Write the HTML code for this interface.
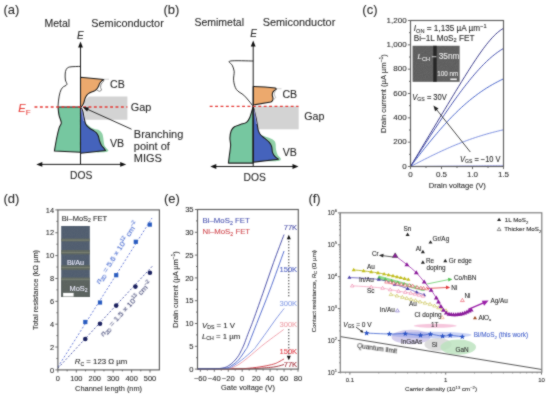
<!DOCTYPE html>
<html><head><meta charset="utf-8"><title>Bi contacts figure</title>
<style>
html,body{margin:0;padding:0;background:#fff;}
body{width:550px;height:395px;overflow:hidden;}
svg{display:block;font-family:'Liberation Sans', Arial, sans-serif;}

</style></head><body>
<div id="w"><svg width="550" height="395" viewBox="0 0 550 395">
<defs><filter id="soft" x="0" y="0" width="100%" height="100%" color-interpolation-filters="sRGB"><feConvolveMatrix order="3" kernelMatrix="1 2 1 2 14 2 1 2 1" divisor="26" edgeMode="duplicate"/></filter></defs>
<g filter="url(#soft)">
<rect width="550" height="395" fill="#fff"/>
<text x="3.4" y="13.8" font-size="13.0" fill="#2e2e2e" stroke="#2e2e2e" stroke-width="0.1">(a)</text>
<text x="163.5" y="13.8" font-size="13.0" fill="#2e2e2e" stroke="#2e2e2e" stroke-width="0.1">(b)</text>
<text x="362.3" y="13.8" font-size="13.0" fill="#2e2e2e" stroke="#2e2e2e" stroke-width="0.1">(c)</text>
<text x="3.4" y="203.0" font-size="13.0" fill="#2e2e2e" stroke="#2e2e2e" stroke-width="0.1">(d)</text>
<text x="164.0" y="203.0" font-size="13.0" fill="#2e2e2e" stroke="#2e2e2e" stroke-width="0.1">(e)</text>
<text x="308.4" y="203.0" font-size="13.0" fill="#2e2e2e" stroke="#2e2e2e" stroke-width="0.1">(f)</text>
<text x="44.4" y="26.5" font-size="10.5" fill="#2a2a2a" stroke="#2a2a2a" stroke-width="0.1">Metal</text>
<text x="91.3" y="26.5" font-size="10.5" fill="#2a2a2a" textLength="72.5" lengthAdjust="spacingAndGlyphs" stroke="#2a2a2a" stroke-width="0.1">Semiconductor</text>
<text x="77.0" y="38.7" font-size="10" fill="#2a2a2a" font-style="italic" stroke="#2a2a2a" stroke-width="0.1">E</text>
<path d="M88.8,96.6 L127.4,96.6 L127.4,119.8 L85.5,119.8 L84.2,112 L84.0,107 Q84.6,99 88.8,96.6 Z" fill="#d3d3d3"/>
<path d="M80.50,66.40 C78.68,66.50 71.98,66.48 69.60,67.00 C67.22,67.52 66.93,68.33 66.20,69.50 C65.47,70.67 65.33,72.25 65.20,74.00 C65.07,75.75 65.13,78.23 65.40,80.00 C65.67,81.77 67.28,83.35 66.80,84.60 C66.32,85.85 63.63,86.18 62.50,87.50 C61.37,88.82 60.65,90.42 60.00,92.50 C59.35,94.58 58.93,97.58 58.60,100.00 C58.27,102.42 58.10,105.83 58.00,107.00" fill="none" stroke="#1a1a1a" stroke-width="0.9" stroke-linejoin="round"/>
<path d="M58.00,107.00 C58.17,108.37 58.45,112.57 59.00,115.20 C59.55,117.83 61.27,120.73 61.30,122.80 C61.33,124.87 59.97,125.07 59.20,127.60 C58.43,130.13 57.50,134.10 56.70,138.00 C55.90,141.90 54.78,148.83 54.40,151.00 L80.5,152.3 L80.5,107 Z" fill="#76c7a0" stroke="#1a1a1a" stroke-width="1.05" stroke-linejoin="round"/>
<path d="M86.00,123.50 C87.05,124.28 90.25,127.15 92.30,128.20 C94.35,129.25 96.68,128.95 98.30,129.80 C99.92,130.65 101.17,131.93 102.00,133.30 C102.83,134.67 103.02,136.63 103.30,138.00 C103.58,139.37 103.48,140.20 103.70,141.50 C103.92,142.80 104.12,144.65 104.60,145.80 C105.08,146.95 105.97,147.60 106.60,148.40 C107.23,149.20 108.83,149.95 108.40,150.60 C107.97,151.25 107.90,152.02 104.00,152.30 C100.10,152.58 88.17,152.30 85.00,152.30 Z" fill="#8fd0a6" stroke="none" stroke-width="1" stroke-linejoin="round"/>
<path d="M80.50,107.00 C80.85,107.58 82.00,108.73 82.60,110.50 C83.20,112.27 83.57,115.32 84.10,117.60 C84.63,119.88 84.93,122.47 85.80,124.20 C86.67,125.93 88.10,126.98 89.30,128.00 C90.50,129.02 91.82,129.50 93.00,130.30 C94.18,131.10 95.52,131.85 96.40,132.80 C97.28,133.75 97.77,134.63 98.30,136.00 C98.83,137.37 99.08,139.45 99.60,141.00 C100.12,142.55 100.67,144.07 101.40,145.30 C102.13,146.53 103.30,147.52 104.00,148.40 C104.70,149.28 105.33,150.23 105.60,150.60 L80.5,153.3 Z" fill="#4563bc" stroke="#1a1a1a" stroke-width="1.05" stroke-linejoin="round"/>
<line x1="81.20" y1="108.50" x2="83.60" y2="121.00" stroke="#a9a4e8" stroke-width="0.8"/>
<path d="M80.5,77.3 L103.9,79.4  C103.50,79.70 102.22,80.52 101.50,81.20 C100.78,81.88 100.08,82.70 99.60,83.50 C99.12,84.30 98.97,85.20 98.60,86.00 C98.23,86.80 98.00,87.53 97.40,88.30 C96.80,89.07 95.95,90.00 95.00,90.60 C94.05,91.20 92.73,91.43 91.70,91.90 C90.67,92.37 89.63,92.83 88.80,93.40 C87.97,93.97 87.28,94.57 86.70,95.30 C86.12,96.03 85.67,96.93 85.30,97.80 C84.93,98.67 84.80,99.55 84.50,100.50 C84.20,101.45 83.90,102.58 83.50,103.50 C83.10,104.42 82.60,105.42 82.10,106.00 C81.60,106.58 80.77,106.83 80.50,107.00 Z" fill="#eca96d" stroke="#1a1a1a" stroke-width="1.05" stroke-linejoin="round"/>
<path d="M103.90,79.40 C103.82,79.75 103.85,80.73 103.40,81.50 C102.95,82.27 101.67,83.00 101.20,84.00 C100.73,85.00 100.55,86.50 100.60,87.50 C100.65,88.50 101.68,89.38 101.50,90.00 C101.32,90.62 100.33,91.23 99.50,91.20 C98.67,91.17 97.00,90.03 96.50,89.80" fill="none" stroke="#555" stroke-width="0.7" stroke-linejoin="round"/>
<line x1="103.90" y1="79.30" x2="109.00" y2="79.20" stroke="#bbb" stroke-width="0.7"/>
<line x1="80.50" y1="46.00" x2="80.50" y2="164.40" stroke="#1a1a1a" stroke-width="1"/>
<path d="M80.50,41.40 L82.90,47.40 L78.10,47.40 Z" fill="#111" stroke="none" stroke-width="1" stroke-linejoin="round"/>
<line x1="41.00" y1="164.40" x2="121.00" y2="164.40" stroke="#1a1a1a" stroke-width="1"/>
<path d="M36.30,164.40 L42.30,162.00 L42.30,166.80 Z" fill="#111" stroke="none" stroke-width="1" stroke-linejoin="round"/>
<path d="M126.20,164.40 L120.20,166.80 L120.20,162.00 Z" fill="#111" stroke="none" stroke-width="1" stroke-linejoin="round"/>
<text x="70.0" y="178.5" font-size="10.3" fill="#2a2a2a" stroke="#2a2a2a" stroke-width="0.1">DOS</text>
<line x1="34.50" y1="107.00" x2="127.40" y2="107.00" stroke="#e53935" stroke-width="1.35" stroke-dasharray="2.9 2.5"/>
<text x="18.3" y="111.7" font-size="11" fill="#e8413c" stroke="#e8413c" stroke-width="0.1"><tspan font-style="italic">E</tspan><tspan font-size="8" dy="2.9">F</tspan></text>
<line x1="131.50" y1="129.20" x2="87.50" y2="109.30" stroke="#1a1a1a" stroke-width="0.9"/>
<path d="M82.60,107.10 L88.97,107.57 L87.16,111.58 Z" fill="#111" stroke="none" stroke-width="1" stroke-linejoin="round"/>
<text x="110.0" y="88.2" font-size="10.6" fill="#2a2a2a" stroke="#2a2a2a" stroke-width="0.1">CB</text>
<text x="130.8" y="111.0" font-size="10.9" fill="#2a2a2a" stroke="#2a2a2a" stroke-width="0.1">Gap</text>
<text x="110.0" y="146.6" font-size="10.6" fill="#2a2a2a" stroke="#2a2a2a" stroke-width="0.1">VB</text>
<text x="133.8" y="137.6" font-size="11.0" fill="#2a2a2a" stroke="#2a2a2a" stroke-width="0.1">Branching</text>
<text x="133.8" y="150.0" font-size="11.0" fill="#2a2a2a" stroke="#2a2a2a" stroke-width="0.1">point of</text>
<text x="133.8" y="162.4" font-size="11.0" fill="#2a2a2a" stroke="#2a2a2a" stroke-width="0.1">MIGS</text>
<text x="194.4" y="26.3" font-size="10.5" fill="#2a2a2a" stroke="#2a2a2a" stroke-width="0.1">Semimetal</text>
<text x="262.7" y="26.3" font-size="10.5" fill="#2a2a2a" textLength="72.6" lengthAdjust="spacingAndGlyphs" stroke="#2a2a2a" stroke-width="0.1">Semiconductor</text>
<text x="250.2" y="37.3" font-size="10" fill="#2a2a2a" font-style="italic" stroke="#2a2a2a" stroke-width="0.1">E</text>
<rect x="253.2" y="106.3" width="45.5" height="23.0" fill="#d3d3d3"/>
<path d="M253.20,61.00 C249.38,61.00 233.80,60.30 230.30,61.00 C226.80,61.70 231.55,63.48 232.20,65.20 C232.85,66.92 233.97,68.77 234.20,71.30 C234.43,73.83 233.23,77.37 233.60,80.40 C233.97,83.43 234.70,87.03 236.40,89.50 C238.10,91.97 241.72,93.30 243.80,95.20 C245.88,97.10 247.33,99.05 248.90,100.90 C250.47,102.75 252.48,105.40 253.20,106.30" fill="none" stroke="#1a1a1a" stroke-width="0.9" stroke-linejoin="round"/>
<path d="M253.20,106.30 C252.63,108.17 250.92,114.83 249.80,117.50 C248.68,120.17 248.05,121.13 246.50,122.30 C244.95,123.47 242.52,123.75 240.50,124.50 C238.48,125.25 235.95,125.75 234.40,126.80 C232.85,127.85 231.95,128.93 231.20,130.80 C230.45,132.67 230.00,135.53 229.90,138.00 C229.80,140.47 230.70,142.60 230.60,145.60 C230.50,148.60 229.67,153.08 229.30,156.00 C228.93,158.92 228.55,161.92 228.40,163.10 L253.2,163.1 Z" fill="#76c7a0" stroke="#1a1a1a" stroke-width="1.05" stroke-linejoin="round"/>
<path d="M259.00,134.00 C260.12,134.47 263.55,135.95 265.70,136.80 C267.85,137.65 270.30,138.15 271.90,139.10 C273.50,140.05 274.62,140.78 275.30,142.50 C275.98,144.22 275.60,147.32 276.00,149.40 C276.40,151.48 276.92,153.47 277.70,155.00 C278.48,156.53 280.65,157.60 280.70,158.60 C280.75,159.60 281.62,160.60 278.00,161.00 C274.38,161.40 262.17,161.00 259.00,161.00 Z" fill="#8fd0a6" stroke="none" stroke-width="1" stroke-linejoin="round"/>
<path d="M253.20,106.30 C253.43,107.25 254.10,109.97 254.60,112.00 C255.10,114.03 255.75,116.33 256.20,118.50 C256.65,120.67 256.95,123.03 257.30,125.00 C257.65,126.97 257.77,128.67 258.30,130.30 C258.83,131.93 259.47,133.48 260.50,134.80 C261.53,136.12 263.07,136.97 264.50,138.20 C265.93,139.43 267.92,140.82 269.10,142.20 C270.28,143.58 271.03,144.82 271.60,146.50 C272.17,148.18 271.97,150.67 272.50,152.30 C273.03,153.93 273.82,155.15 274.80,156.30 C275.78,157.45 277.80,158.72 278.40,159.20 L253.2,162.2 Z" fill="#4563bc" stroke="#1a1a1a" stroke-width="1.05" stroke-linejoin="round"/>
<line x1="254.00" y1="110.00" x2="256.50" y2="124.00" stroke="#a9a4e8" stroke-width="0.8"/>
<path d="M253.2,86.5 Q265,86.8 275.4,88  C275.57,88.17 276.60,88.57 276.40,89.00 C276.20,89.43 274.82,90.02 274.20,90.60 C273.58,91.18 273.02,91.73 272.70,92.50 C272.38,93.27 272.25,94.25 272.30,95.20 C272.35,96.15 272.95,97.32 273.00,98.20 C273.05,99.08 272.97,99.87 272.60,100.50 C272.23,101.13 271.10,101.75 270.80,102.00 L253.2,105 Z" fill="#eca96d" stroke="#1a1a1a" stroke-width="1.05" stroke-linejoin="round"/>
<path d="M276.40,89.20 C276.13,89.67 275.13,91.03 274.80,92.00 C274.47,92.97 274.27,94.08 274.40,95.00 C274.53,95.92 275.63,96.80 275.60,97.50 C275.57,98.20 274.43,98.92 274.20,99.20" fill="none" stroke="#888" stroke-width="0.6" stroke-linejoin="round"/>
<line x1="276.40" y1="88.60" x2="281.50" y2="88.80" stroke="#bbb" stroke-width="0.7"/>
<line x1="253.20" y1="45.00" x2="253.20" y2="166.50" stroke="#1a1a1a" stroke-width="1"/>
<path d="M253.20,40.60 L255.60,46.60 L250.80,46.60 Z" fill="#111" stroke="none" stroke-width="1" stroke-linejoin="round"/>
<line x1="215.00" y1="166.50" x2="293.50" y2="166.50" stroke="#1a1a1a" stroke-width="1"/>
<path d="M210.30,166.50 L216.30,164.10 L216.30,168.90 Z" fill="#111" stroke="none" stroke-width="1" stroke-linejoin="round"/>
<path d="M298.50,166.50 L292.50,168.90 L292.50,164.10 Z" fill="#111" stroke="none" stroke-width="1" stroke-linejoin="round"/>
<text x="243.5" y="180.9" font-size="10.3" fill="#2a2a2a" stroke="#2a2a2a" stroke-width="0.1">DOS</text>
<line x1="209.70" y1="106.30" x2="298.50" y2="106.30" stroke="#e53935" stroke-width="1.35" stroke-dasharray="2.9 2.5"/>
<text x="282.4" y="97.9" font-size="10.6" fill="#2a2a2a" stroke="#2a2a2a" stroke-width="0.1">CB</text>
<text x="304.2" y="120.2" font-size="10.7" fill="#2a2a2a" stroke="#2a2a2a" stroke-width="0.1">Gap</text>
<text x="282.8" y="156.2" font-size="10.6" fill="#2a2a2a" stroke="#2a2a2a" stroke-width="0.1">VB</text>
<defs><filter id="noise" x="0" y="0" width="100%" height="100%"><feTurbulence type="fractalNoise" baseFrequency="0.9" numOctaves="2" seed="3"/><feColorMatrix type="matrix" values="0 0 0 0 0.3  0 0 0 0 0.3  0 0 0 0 0.3  0 0 0 0.5 0"/><feComposite in2="SourceGraphic" operator="in"/></filter></defs>
<rect x="412.6" y="45.8" width="47" height="36" fill="#585858"/>
<rect x="412.6" y="45.8" width="47" height="36" fill="#555" filter="url(#noise)" opacity="0.6"/>
<rect x="433.8" y="45.8" width="2.9" height="36" fill="#262626"/>
<rect x="433.0" y="45.8" width="0.8" height="36" fill="#2e2e2e"/>
<text x="417.6" y="59.0" font-size="8" fill="#eee" stroke="#eee" stroke-width="0.1"><tspan font-style="italic">L</tspan><tspan font-size="5.6" dy="1.9">CH</tspan></text>
<rect x="431.8" y="56.3" width="4.6" height="0.9" fill="#ddd"/>
<text x="438.7" y="59.2" font-size="8.3" fill="#eee" stroke="#eee" stroke-width="0.1">35nm</text>
<text x="437.2" y="76.4" font-size="6.3" fill="#eee" stroke="#eee" stroke-width="0.1">100 nm</text>
<rect x="450.3" y="78.5" width="6.5" height="1.6" fill="#f2f2f2"/>
<line x1="407.90" y1="166.50" x2="410.50" y2="166.50" stroke="#5e5e5e" stroke-width="0.9"/>
<line x1="409.00" y1="154.33" x2="410.50" y2="154.33" stroke="#5e5e5e" stroke-width="0.9"/>
<line x1="407.90" y1="142.17" x2="410.50" y2="142.17" stroke="#5e5e5e" stroke-width="0.9"/>
<line x1="409.00" y1="130.00" x2="410.50" y2="130.00" stroke="#5e5e5e" stroke-width="0.9"/>
<line x1="407.90" y1="117.83" x2="410.50" y2="117.83" stroke="#5e5e5e" stroke-width="0.9"/>
<line x1="409.00" y1="105.67" x2="410.50" y2="105.67" stroke="#5e5e5e" stroke-width="0.9"/>
<line x1="407.90" y1="93.50" x2="410.50" y2="93.50" stroke="#5e5e5e" stroke-width="0.9"/>
<line x1="409.00" y1="81.33" x2="410.50" y2="81.33" stroke="#5e5e5e" stroke-width="0.9"/>
<line x1="407.90" y1="69.17" x2="410.50" y2="69.17" stroke="#5e5e5e" stroke-width="0.9"/>
<line x1="409.00" y1="57.00" x2="410.50" y2="57.00" stroke="#5e5e5e" stroke-width="0.9"/>
<line x1="407.90" y1="44.83" x2="410.50" y2="44.83" stroke="#5e5e5e" stroke-width="0.9"/>
<line x1="409.00" y1="32.67" x2="410.50" y2="32.67" stroke="#5e5e5e" stroke-width="0.9"/>
<line x1="407.90" y1="20.50" x2="410.50" y2="20.50" stroke="#5e5e5e" stroke-width="0.9"/>
<line x1="410.50" y1="166.50" x2="410.50" y2="169.10" stroke="#5e5e5e" stroke-width="0.9"/>
<line x1="426.00" y1="166.50" x2="426.00" y2="168.00" stroke="#5e5e5e" stroke-width="0.9"/>
<line x1="441.50" y1="166.50" x2="441.50" y2="169.10" stroke="#5e5e5e" stroke-width="0.9"/>
<line x1="457.00" y1="166.50" x2="457.00" y2="168.00" stroke="#5e5e5e" stroke-width="0.9"/>
<line x1="472.50" y1="166.50" x2="472.50" y2="169.10" stroke="#5e5e5e" stroke-width="0.9"/>
<line x1="488.00" y1="166.50" x2="488.00" y2="168.00" stroke="#5e5e5e" stroke-width="0.9"/>
<line x1="503.50" y1="166.50" x2="503.50" y2="169.10" stroke="#5e5e5e" stroke-width="0.9"/>
<text x="406.6" y="168.8" font-size="8.0" fill="#2e2e2e" text-anchor="end" stroke="#2e2e2e" stroke-width="0.1">0</text>
<text x="406.6" y="144.46666666666667" font-size="8.0" fill="#2e2e2e" text-anchor="end" stroke="#2e2e2e" stroke-width="0.1">200</text>
<text x="406.6" y="120.13333333333334" font-size="8.0" fill="#2e2e2e" text-anchor="end" stroke="#2e2e2e" stroke-width="0.1">400</text>
<text x="406.6" y="95.8" font-size="8.0" fill="#2e2e2e" text-anchor="end" stroke="#2e2e2e" stroke-width="0.1">600</text>
<text x="406.6" y="71.46666666666667" font-size="8.0" fill="#2e2e2e" text-anchor="end" stroke="#2e2e2e" stroke-width="0.1">800</text>
<text x="406.6" y="47.133333333333326" font-size="8.0" fill="#2e2e2e" text-anchor="end" stroke="#2e2e2e" stroke-width="0.1">1,000</text>
<text x="406.6" y="22.8" font-size="8.0" fill="#2e2e2e" text-anchor="end" stroke="#2e2e2e" stroke-width="0.1">1,200</text>
<text x="410.5" y="177.2" font-size="8.0" fill="#2e2e2e" text-anchor="middle" stroke="#2e2e2e" stroke-width="0.1">0</text>
<text x="441.5" y="177.2" font-size="8.0" fill="#2e2e2e" text-anchor="middle" stroke="#2e2e2e" stroke-width="0.1">0.5</text>
<text x="472.5" y="177.2" font-size="8.0" fill="#2e2e2e" text-anchor="middle" stroke="#2e2e2e" stroke-width="0.1">1.0</text>
<text x="503.5" y="177.2" font-size="8.0" fill="#2e2e2e" text-anchor="middle" stroke="#2e2e2e" stroke-width="0.1">1.5</text>
<text x="457.3" y="187.6" font-size="7.6" fill="#2e2e2e" text-anchor="middle" stroke="#2e2e2e" stroke-width="0.1">Drain voltage (V)</text>
<text transform="translate(386.0,93.5) rotate(-90)" font-size="7.6" fill="#2e2e2e" text-anchor="middle" stroke="#2e2e2e" stroke-width="0.1">Drain current (µA µm<tspan font-size="5.2" dy="-2.8">−1</tspan><tspan dy="2.8">)</tspan></text>
<path d="M410.50,166.50 L412.05,166.48 L413.60,166.46 L415.15,166.45 L416.70,166.43 L418.25,166.41 L419.80,166.39 L421.35,166.37 L422.90,166.35 L424.45,166.34 L426.00,166.32 L427.55,166.30 L429.10,166.28 L430.65,166.26 L432.20,166.24 L433.75,166.23 L435.30,166.21 L436.85,166.19 L438.40,166.17 L439.95,166.15 L441.50,166.13 L443.05,166.12 L444.60,166.10 L446.15,166.08 L447.70,166.06 L449.25,166.04 L450.80,166.03 L452.35,166.01 L453.90,165.99 L455.45,165.97 L457.00,165.95 L458.55,165.93 L460.10,165.92 L461.65,165.90 L463.20,165.88 L464.75,165.86 L466.30,165.84 L467.85,165.82 L469.40,165.81 L470.95,165.79 L472.50,165.77 L474.05,165.75 L475.60,165.73 L477.15,165.72 L478.70,165.70 L480.25,165.68 L481.80,165.66 L483.35,165.64 L484.90,165.62 L486.45,165.61 L488.00,165.59 L489.55,165.57 L491.10,165.55 L492.65,165.53 L494.20,165.51 L495.75,165.50 L497.30,165.48 L498.85,165.46 L500.40,165.44 L501.95,165.42 L503.50,165.41" fill="none" stroke="#aeb2ec" stroke-width="1.0" stroke-linejoin="round"/>
<path d="M410.50,166.50 L412.05,165.70 L413.60,164.91 L415.15,164.11 L416.70,163.32 L418.25,162.52 L419.80,161.73 L421.35,160.95 L422.90,160.16 L424.45,159.38 L426.00,158.60 L427.55,157.83 L429.10,157.06 L430.65,156.29 L432.20,155.53 L433.75,154.78 L435.30,154.03 L436.85,153.29 L438.40,152.56 L439.95,151.83 L441.50,151.11 L443.05,150.39 L444.60,149.69 L446.15,148.99 L447.70,148.30 L449.25,147.62 L450.80,146.95 L452.35,146.28 L453.90,145.63 L455.45,144.98 L457.00,144.35 L458.55,143.72 L460.10,143.10 L461.65,142.49 L463.20,141.90 L464.75,141.31 L466.30,140.73 L467.85,140.16 L469.40,139.60 L470.95,139.05 L472.50,138.52 L474.05,137.99 L475.60,137.47 L477.15,136.96 L478.70,136.46 L480.25,135.97 L481.80,135.50 L483.35,135.03 L484.90,134.57 L486.45,134.12 L488.00,133.68 L489.55,133.25 L491.10,132.83 L492.65,132.42 L494.20,132.02 L495.75,131.63 L497.30,131.24 L498.85,130.87 L500.40,130.50 L501.95,130.15 L503.50,129.80" fill="none" stroke="#7c8fe0" stroke-width="1.0" stroke-linejoin="round"/>
<path d="M410.50,166.50 L412.05,164.49 L413.60,162.49 L415.15,160.48 L416.70,158.48 L418.25,156.49 L419.80,154.50 L421.35,152.52 L422.90,150.55 L424.45,148.59 L426.00,146.65 L427.55,144.71 L429.10,142.79 L430.65,140.89 L432.20,139.00 L433.75,137.12 L435.30,135.27 L436.85,133.44 L438.40,131.62 L439.95,129.83 L441.50,128.06 L443.05,126.31 L444.60,124.58 L446.15,122.88 L447.70,121.21 L449.25,119.55 L450.80,117.93 L452.35,116.33 L453.90,114.76 L455.45,113.21 L457.00,111.69 L458.55,110.20 L460.10,108.74 L461.65,107.30 L463.20,105.90 L464.75,104.52 L466.30,103.17 L467.85,101.85 L469.40,100.55 L470.95,99.29 L472.50,98.05 L474.05,96.84 L475.60,95.66 L477.15,94.51 L478.70,93.38 L480.25,92.28 L481.80,91.21 L483.35,90.17 L484.90,89.15 L486.45,88.15 L488.00,87.19 L489.55,86.25 L491.10,85.33 L492.65,84.44 L494.20,83.57 L495.75,82.72 L497.30,81.90 L498.85,81.11 L500.40,80.33 L501.95,79.58 L503.50,78.85" fill="none" stroke="#4a66cc" stroke-width="1.0" stroke-linejoin="round"/>
<path d="M410.50,166.50 L412.05,164.10 L413.60,161.69 L415.15,159.29 L416.70,156.89 L418.25,154.49 L419.80,152.09 L421.35,149.69 L422.90,147.30 L424.45,144.91 L426.00,142.52 L427.55,140.14 L429.10,137.76 L430.65,135.39 L432.20,133.02 L433.75,130.66 L435.30,128.31 L436.85,125.97 L438.40,123.63 L439.95,121.31 L441.50,119.00 L443.05,116.70 L444.60,114.42 L446.15,112.14 L447.70,109.89 L449.25,107.65 L450.80,105.42 L452.35,103.22 L453.90,101.03 L455.45,98.87 L457.00,96.72 L458.55,94.60 L460.10,92.50 L461.65,90.43 L463.20,88.38 L464.75,86.36 L466.30,84.37 L467.85,82.41 L469.40,80.47 L470.95,78.57 L472.50,76.71 L474.05,74.88 L475.60,73.08 L477.15,71.32 L478.70,69.60 L480.25,67.92 L481.80,66.28 L483.35,64.68 L484.90,63.13 L486.45,61.62 L488.00,60.16 L489.55,58.75 L491.10,57.39 L492.65,56.08 L494.20,54.82 L495.75,53.62 L497.30,52.47 L498.85,51.38 L500.40,50.35 L501.95,49.38 L503.50,48.47" fill="none" stroke="#4551b0" stroke-width="1.0" stroke-linejoin="round"/>
<path d="M410.50,166.50 L412.05,163.91 L413.60,161.33 L415.15,158.74 L416.70,156.16 L418.25,153.57 L419.80,150.99 L421.35,148.40 L422.90,145.82 L424.45,143.23 L426.00,140.65 L427.55,138.06 L429.10,135.48 L430.65,132.89 L432.20,130.31 L433.75,127.72 L435.30,125.14 L436.85,122.55 L438.40,119.97 L439.95,117.39 L441.50,114.81 L443.05,112.23 L444.60,109.65 L446.15,107.08 L447.70,104.50 L449.25,101.93 L450.80,99.37 L452.35,96.81 L453.90,94.25 L455.45,91.70 L457.00,89.15 L458.55,86.62 L460.10,84.09 L461.65,81.58 L463.20,79.07 L464.75,76.58 L466.30,74.11 L467.85,71.65 L469.40,69.21 L470.95,66.80 L472.50,64.41 L474.05,62.04 L475.60,59.71 L477.15,57.41 L478.70,55.15 L480.25,52.94 L481.80,50.76 L483.35,48.64 L484.90,46.57 L486.45,44.57 L488.00,42.63 L489.55,40.76 L491.10,38.97 L492.65,37.27 L494.20,35.66 L495.75,34.14 L497.30,32.74 L498.85,31.46 L500.40,30.30 L501.95,29.28 L503.50,28.40" fill="none" stroke="#3b3c8c" stroke-width="1.0" stroke-linejoin="round"/>
<rect x="410.5" y="20.5" width="93.0" height="146.0" fill="none" stroke="#5e5e5e" stroke-width="1.15"/>
<text x="413.8" y="31.2" font-size="8.2" fill="#2a2a2a" stroke="#2a2a2a" stroke-width="0.1"><tspan font-style="italic">I</tspan><tspan font-size="5.6" dy="1.8">ON</tspan><tspan dy="-1.8"> = 1,135 µA µm</tspan><tspan font-size="5.6" dy="-3">−1</tspan></text>
<text x="413.8" y="40.6" font-size="8.2" fill="#2a2a2a" stroke="#2a2a2a" stroke-width="0.1">Bi–1L MoS<tspan font-size="5.6" dy="1.8">2</tspan><tspan dy="-1.8"> FET</tspan></text>
<text x="412.3" y="99.6" font-size="8.2" fill="#2a2a2a" textLength="34.5" lengthAdjust="spacingAndGlyphs" stroke="#2a2a2a" stroke-width="0.1"><tspan font-style="italic">V</tspan><tspan font-size="5.6" dy="1.8">GS</tspan><tspan dy="-1.8"> = 30V</tspan></text>
<text x="460.0" y="161.6" font-size="8.2" fill="#2a2a2a" textLength="40.5" lengthAdjust="spacingAndGlyphs" stroke="#2a2a2a" stroke-width="0.1"><tspan font-style="italic">V</tspan><tspan font-size="5.6" dy="1.8">GS</tspan><tspan dy="-1.8"> = −10 V</tspan></text>
<line x1="470.30" y1="152.00" x2="436.50" y2="109.50" stroke="#333" stroke-width="0.9"/>
<path d="M433.40,105.60 L438.55,108.54 L435.10,111.27 Z" fill="#222" stroke="none" stroke-width="1" stroke-linejoin="round"/>
<rect x="61.2" y="226" width="28.6" height="71" fill="#4c5a6d"/>
<rect x="61.2" y="238.6" width="28.6" height="2.8000000000000114" fill="#5f6860"/>
<rect x="61.2" y="250.0" width="28.6" height="4.400000000000006" fill="#5c655d"/>
<rect x="61.2" y="265.3" width="28.6" height="4.5" fill="#5c655d"/>
<rect x="61.2" y="277.5" width="28.6" height="3.3999999999999773" fill="#5f6860"/>
<rect x="61.2" y="280.9" width="28.6" height="16.100000000000023" fill="#575f5b"/>
<rect x="61.2" y="239.79999999999998" width="28.6" height="0.6" fill="#868c78"/>
<rect x="61.2" y="252.0" width="28.6" height="0.6" fill="#868c78"/>
<rect x="61.2" y="267.2" width="28.6" height="0.6" fill="#868c78"/>
<rect x="61.2" y="278.9" width="28.6" height="0.6" fill="#868c78"/>
<rect x="61.2" y="226" width="28.6" height="71" fill="#777" filter="url(#noise)" opacity="0.35"/>
<text x="75.5" y="264.6" font-size="7.2" fill="#eef" text-anchor="middle" stroke="#eef" stroke-width="0.1">Bi/Au</text>
<text x="69.6" y="290.8" font-size="7.4" fill="#eef" stroke="#eef" stroke-width="0.1">MoS<tspan font-size="5" dy="1.6">2</tspan></text>
<rect x="63.1" y="292.9" width="10.5" height="3.6" fill="#fff"/>
<line x1="55.30" y1="369.90" x2="57.90" y2="369.90" stroke="#5e5e5e" stroke-width="0.9"/>
<line x1="56.40" y1="358.47" x2="57.90" y2="358.47" stroke="#5e5e5e" stroke-width="0.9"/>
<line x1="55.30" y1="347.04" x2="57.90" y2="347.04" stroke="#5e5e5e" stroke-width="0.9"/>
<line x1="56.40" y1="335.61" x2="57.90" y2="335.61" stroke="#5e5e5e" stroke-width="0.9"/>
<line x1="55.30" y1="324.19" x2="57.90" y2="324.19" stroke="#5e5e5e" stroke-width="0.9"/>
<line x1="56.40" y1="312.76" x2="57.90" y2="312.76" stroke="#5e5e5e" stroke-width="0.9"/>
<line x1="55.30" y1="301.33" x2="57.90" y2="301.33" stroke="#5e5e5e" stroke-width="0.9"/>
<line x1="56.40" y1="289.90" x2="57.90" y2="289.90" stroke="#5e5e5e" stroke-width="0.9"/>
<line x1="55.30" y1="278.47" x2="57.90" y2="278.47" stroke="#5e5e5e" stroke-width="0.9"/>
<line x1="56.40" y1="267.04" x2="57.90" y2="267.04" stroke="#5e5e5e" stroke-width="0.9"/>
<line x1="55.30" y1="255.61" x2="57.90" y2="255.61" stroke="#5e5e5e" stroke-width="0.9"/>
<line x1="56.40" y1="244.19" x2="57.90" y2="244.19" stroke="#5e5e5e" stroke-width="0.9"/>
<line x1="55.30" y1="232.76" x2="57.90" y2="232.76" stroke="#5e5e5e" stroke-width="0.9"/>
<line x1="56.40" y1="221.33" x2="57.90" y2="221.33" stroke="#5e5e5e" stroke-width="0.9"/>
<line x1="55.30" y1="209.90" x2="57.90" y2="209.90" stroke="#5e5e5e" stroke-width="0.9"/>
<line x1="57.90" y1="369.90" x2="57.90" y2="372.50" stroke="#5e5e5e" stroke-width="0.9"/>
<line x1="67.11" y1="369.90" x2="67.11" y2="371.40" stroke="#5e5e5e" stroke-width="0.9"/>
<line x1="76.32" y1="369.90" x2="76.32" y2="372.50" stroke="#5e5e5e" stroke-width="0.9"/>
<line x1="85.53" y1="369.90" x2="85.53" y2="371.40" stroke="#5e5e5e" stroke-width="0.9"/>
<line x1="94.74" y1="369.90" x2="94.74" y2="372.50" stroke="#5e5e5e" stroke-width="0.9"/>
<line x1="103.95" y1="369.90" x2="103.95" y2="371.40" stroke="#5e5e5e" stroke-width="0.9"/>
<line x1="113.16" y1="369.90" x2="113.16" y2="372.50" stroke="#5e5e5e" stroke-width="0.9"/>
<line x1="122.37" y1="369.90" x2="122.37" y2="371.40" stroke="#5e5e5e" stroke-width="0.9"/>
<line x1="131.58" y1="369.90" x2="131.58" y2="372.50" stroke="#5e5e5e" stroke-width="0.9"/>
<line x1="140.79" y1="369.90" x2="140.79" y2="371.40" stroke="#5e5e5e" stroke-width="0.9"/>
<line x1="150.00" y1="369.90" x2="150.00" y2="372.50" stroke="#5e5e5e" stroke-width="0.9"/>
<text x="54.0" y="372.5" font-size="7.4" fill="#2e2e2e" text-anchor="end" stroke="#2e2e2e" stroke-width="0.1">0</text>
<text x="54.0" y="349.64285714285717" font-size="7.4" fill="#2e2e2e" text-anchor="end" stroke="#2e2e2e" stroke-width="0.1">2</text>
<text x="54.0" y="326.7857142857143" font-size="7.4" fill="#2e2e2e" text-anchor="end" stroke="#2e2e2e" stroke-width="0.1">4</text>
<text x="54.0" y="303.92857142857144" font-size="7.4" fill="#2e2e2e" text-anchor="end" stroke="#2e2e2e" stroke-width="0.1">6</text>
<text x="54.0" y="281.07142857142856" font-size="7.4" fill="#2e2e2e" text-anchor="end" stroke="#2e2e2e" stroke-width="0.1">8</text>
<text x="54.0" y="258.2142857142857" font-size="7.4" fill="#2e2e2e" text-anchor="end" stroke="#2e2e2e" stroke-width="0.1">10</text>
<text x="54.0" y="235.35714285714286" font-size="7.4" fill="#2e2e2e" text-anchor="end" stroke="#2e2e2e" stroke-width="0.1">12</text>
<text x="54.0" y="212.5" font-size="7.4" fill="#2e2e2e" text-anchor="end" stroke="#2e2e2e" stroke-width="0.1">14</text>
<text x="57.9" y="381.4" font-size="7.4" fill="#2e2e2e" text-anchor="middle" stroke="#2e2e2e" stroke-width="0.1">0</text>
<text x="76.32" y="381.4" font-size="7.4" fill="#2e2e2e" text-anchor="middle" stroke="#2e2e2e" stroke-width="0.1">100</text>
<text x="94.74000000000001" y="381.4" font-size="7.4" fill="#2e2e2e" text-anchor="middle" stroke="#2e2e2e" stroke-width="0.1">200</text>
<text x="113.16" y="381.4" font-size="7.4" fill="#2e2e2e" text-anchor="middle" stroke="#2e2e2e" stroke-width="0.1">300</text>
<text x="131.58" y="381.4" font-size="7.4" fill="#2e2e2e" text-anchor="middle" stroke="#2e2e2e" stroke-width="0.1">400</text>
<text x="150.0" y="381.4" font-size="7.4" fill="#2e2e2e" text-anchor="middle" stroke="#2e2e2e" stroke-width="0.1">500</text>
<text x="108.6" y="391.0" font-size="7.4" fill="#2e2e2e" text-anchor="middle" stroke="#2e2e2e" stroke-width="0.1">Channel length (nm)</text>
<text transform="translate(37.5,290) rotate(-90)" font-size="7.4" fill="#2e2e2e" text-anchor="middle" stroke="#2e2e2e" stroke-width="0.1">Total resistance (kΩ µm)</text>
<line x1="57.90" y1="367.04" x2="152.00" y2="218.00" stroke="#5a6fd6" stroke-width="0.9" stroke-dasharray="2 1.8"/>
<line x1="57.90" y1="368.19" x2="152.50" y2="266.00" stroke="#4a55a8" stroke-width="0.9" stroke-dasharray="2 1.8"/>
<rect x="83.2" y="319.9" width="4.2" height="4.2" fill="#2a5cc0"/>
<rect x="97.9" y="300.4" width="4.2" height="4.2" fill="#2a5cc0"/>
<rect x="114.10000000000001" y="273.09999999999997" width="4.2" height="4.2" fill="#2a5cc0"/>
<rect x="133.70000000000002" y="239.70000000000002" width="4.2" height="4.2" fill="#2a5cc0"/>
<rect x="147.70000000000002" y="222.5" width="4.2" height="4.2" fill="#2a5cc0"/>
<circle cx="85.3" cy="339" r="2.3" fill="#1c2260"/>
<circle cx="100" cy="323.8" r="2.3" fill="#1c2260"/>
<circle cx="116.2" cy="305.6" r="2.3" fill="#1c2260"/>
<circle cx="135.4" cy="286.6" r="2.3" fill="#1c2260"/>
<circle cx="149.9" cy="272.7" r="2.3" fill="#1c2260"/>
<text x="61.8" y="220.8" font-size="7.5" fill="#2a2a2a" stroke="#2a2a2a" stroke-width="0.1">Bi–MoS<tspan font-size="5" dy="1.6">2</tspan><tspan dy="-1.6"> FET</tspan></text>
<text transform="translate(99.6,284.2) rotate(-57.5)" font-size="7.8" fill="#3a5fcc" style="will-change:transform" stroke="#3a5fcc" stroke-width="0.1"><tspan font-style="italic">n</tspan><tspan font-size="5" dy="1.5">2D</tspan><tspan dy="-1.5"> = 5.6 × 10</tspan><tspan font-size="5" dy="-2.8">12</tspan><tspan dy="2.8"> cm</tspan><tspan font-size="5" dy="-2.8">−2</tspan></text>
<text transform="translate(103.4,336.8) rotate(-47.5)" font-size="7.8" fill="#3a3f70" style="will-change:transform" stroke="#3a3f70" stroke-width="0.1"><tspan font-style="italic">n</tspan><tspan font-size="5" dy="1.5">2D</tspan><tspan dy="-1.5"> = 1.5 × 10</tspan><tspan font-size="5" dy="-2.8">13</tspan><tspan dy="2.8"> cm</tspan><tspan font-size="5" dy="-2.8">−2</tspan></text>
<text x="74.8" y="364.2" font-size="7.8" fill="#2a2a2a" stroke="#2a2a2a" stroke-width="0.1"><tspan font-style="italic">R</tspan><tspan font-size="5.2" dy="1.6">C</tspan><tspan dy="-1.6"> = 123 Ω µm</tspan></text>
<rect x="57.9" y="209.9" width="101.5" height="159.99999999999997" fill="none" stroke="#5e5e5e" stroke-width="1.15"/>
<line x1="194.90" y1="369.10" x2="197.50" y2="369.10" stroke="#5e5e5e" stroke-width="0.9"/>
<line x1="196.00" y1="357.70" x2="197.50" y2="357.70" stroke="#5e5e5e" stroke-width="0.9"/>
<line x1="194.90" y1="346.30" x2="197.50" y2="346.30" stroke="#5e5e5e" stroke-width="0.9"/>
<line x1="196.00" y1="334.90" x2="197.50" y2="334.90" stroke="#5e5e5e" stroke-width="0.9"/>
<line x1="194.90" y1="323.50" x2="197.50" y2="323.50" stroke="#5e5e5e" stroke-width="0.9"/>
<line x1="196.00" y1="312.10" x2="197.50" y2="312.10" stroke="#5e5e5e" stroke-width="0.9"/>
<line x1="194.90" y1="300.70" x2="197.50" y2="300.70" stroke="#5e5e5e" stroke-width="0.9"/>
<line x1="196.00" y1="289.30" x2="197.50" y2="289.30" stroke="#5e5e5e" stroke-width="0.9"/>
<line x1="194.90" y1="277.90" x2="197.50" y2="277.90" stroke="#5e5e5e" stroke-width="0.9"/>
<line x1="196.00" y1="266.50" x2="197.50" y2="266.50" stroke="#5e5e5e" stroke-width="0.9"/>
<line x1="194.90" y1="255.10" x2="197.50" y2="255.10" stroke="#5e5e5e" stroke-width="0.9"/>
<line x1="196.00" y1="243.70" x2="197.50" y2="243.70" stroke="#5e5e5e" stroke-width="0.9"/>
<line x1="194.90" y1="232.30" x2="197.50" y2="232.30" stroke="#5e5e5e" stroke-width="0.9"/>
<line x1="196.00" y1="220.90" x2="197.50" y2="220.90" stroke="#5e5e5e" stroke-width="0.9"/>
<line x1="194.90" y1="209.50" x2="197.50" y2="209.50" stroke="#5e5e5e" stroke-width="0.9"/>
<line x1="200.35" y1="369.10" x2="200.35" y2="371.70" stroke="#5e5e5e" stroke-width="0.9"/>
<line x1="207.32" y1="369.10" x2="207.32" y2="370.60" stroke="#5e5e5e" stroke-width="0.9"/>
<line x1="214.30" y1="369.10" x2="214.30" y2="371.70" stroke="#5e5e5e" stroke-width="0.9"/>
<line x1="221.27" y1="369.10" x2="221.27" y2="370.60" stroke="#5e5e5e" stroke-width="0.9"/>
<line x1="228.25" y1="369.10" x2="228.25" y2="371.70" stroke="#5e5e5e" stroke-width="0.9"/>
<line x1="235.22" y1="369.10" x2="235.22" y2="370.60" stroke="#5e5e5e" stroke-width="0.9"/>
<line x1="242.20" y1="369.10" x2="242.20" y2="371.70" stroke="#5e5e5e" stroke-width="0.9"/>
<line x1="249.17" y1="369.10" x2="249.17" y2="370.60" stroke="#5e5e5e" stroke-width="0.9"/>
<line x1="256.15" y1="369.10" x2="256.15" y2="371.70" stroke="#5e5e5e" stroke-width="0.9"/>
<line x1="263.12" y1="369.10" x2="263.12" y2="370.60" stroke="#5e5e5e" stroke-width="0.9"/>
<line x1="270.10" y1="369.10" x2="270.10" y2="371.70" stroke="#5e5e5e" stroke-width="0.9"/>
<line x1="277.07" y1="369.10" x2="277.07" y2="370.60" stroke="#5e5e5e" stroke-width="0.9"/>
<line x1="284.05" y1="369.10" x2="284.05" y2="371.70" stroke="#5e5e5e" stroke-width="0.9"/>
<line x1="291.02" y1="369.10" x2="291.02" y2="370.60" stroke="#5e5e5e" stroke-width="0.9"/>
<line x1="298.00" y1="369.10" x2="298.00" y2="371.70" stroke="#5e5e5e" stroke-width="0.9"/>
<text x="193.6" y="371.8" font-size="7.6" fill="#2e2e2e" text-anchor="end" stroke="#2e2e2e" stroke-width="0.1">0</text>
<text x="193.6" y="349.0" font-size="7.6" fill="#2e2e2e" text-anchor="end" stroke="#2e2e2e" stroke-width="0.1">5</text>
<text x="193.6" y="326.2" font-size="7.6" fill="#2e2e2e" text-anchor="end" stroke="#2e2e2e" stroke-width="0.1">10</text>
<text x="193.6" y="303.4" font-size="7.6" fill="#2e2e2e" text-anchor="end" stroke="#2e2e2e" stroke-width="0.1">15</text>
<text x="193.6" y="280.59999999999997" font-size="7.6" fill="#2e2e2e" text-anchor="end" stroke="#2e2e2e" stroke-width="0.1">20</text>
<text x="193.6" y="257.8" font-size="7.6" fill="#2e2e2e" text-anchor="end" stroke="#2e2e2e" stroke-width="0.1">25</text>
<text x="193.6" y="234.99999999999997" font-size="7.6" fill="#2e2e2e" text-anchor="end" stroke="#2e2e2e" stroke-width="0.1">30</text>
<text x="193.6" y="212.2" font-size="7.6" fill="#2e2e2e" text-anchor="end" stroke="#2e2e2e" stroke-width="0.1">35</text>
<text x="200.34999999999997" y="381.0" font-size="7.6" fill="#2e2e2e" text-anchor="middle" stroke="#2e2e2e" stroke-width="0.1">−60</text>
<text x="214.29999999999998" y="381.0" font-size="7.6" fill="#2e2e2e" text-anchor="middle" stroke="#2e2e2e" stroke-width="0.1">−40</text>
<text x="228.25" y="381.0" font-size="7.6" fill="#2e2e2e" text-anchor="middle" stroke="#2e2e2e" stroke-width="0.1">−20</text>
<text x="242.2" y="381.0" font-size="7.6" fill="#2e2e2e" text-anchor="middle" stroke="#2e2e2e" stroke-width="0.1">0</text>
<text x="256.15" y="381.0" font-size="7.6" fill="#2e2e2e" text-anchor="middle" stroke="#2e2e2e" stroke-width="0.1">20</text>
<text x="270.1" y="381.0" font-size="7.6" fill="#2e2e2e" text-anchor="middle" stroke="#2e2e2e" stroke-width="0.1">40</text>
<text x="284.05" y="381.0" font-size="7.6" fill="#2e2e2e" text-anchor="middle" stroke="#2e2e2e" stroke-width="0.1">60</text>
<text x="298.0" y="381.0" font-size="7.6" fill="#2e2e2e" text-anchor="middle" stroke="#2e2e2e" stroke-width="0.1">80</text>
<text x="248.0" y="390.2" font-size="7.4" fill="#2e2e2e" text-anchor="middle" stroke="#2e2e2e" stroke-width="0.1">Gate voltage (V)</text>
<text transform="translate(177.5,289.5) rotate(-90)" font-size="7.4" fill="#2e2e2e" text-anchor="middle" stroke="#2e2e2e" stroke-width="0.1">Drain current (µA µm<tspan font-size="5" dy="-2.6">−1</tspan><tspan dy="2.6">)</tspan></text>
<path d="M197.56,368.96 C205.00,368.95 232.44,368.96 242.20,368.87 C251.96,368.78 252.08,368.61 256.15,368.42 C260.22,368.23 263.71,367.97 266.61,367.73 C269.52,367.50 271.61,367.28 273.59,367.00 C275.56,366.73 276.73,366.50 278.47,366.09 C280.21,365.68 283.12,364.80 284.05,364.54" fill="none" stroke="#a0303a" stroke-width="0.95" stroke-linejoin="round"/>
<path d="M197.56,368.96 C203.84,368.95 226.62,369.00 235.22,368.87 C243.83,368.74 244.52,368.61 249.17,368.19 C253.82,367.77 259.06,367.05 263.12,366.36 C267.19,365.68 271.03,364.81 273.59,364.08 C276.14,363.36 276.73,362.90 278.47,362.03 C280.21,361.17 283.12,359.41 284.05,358.89" fill="none" stroke="#d0404a" stroke-width="0.95" stroke-linejoin="round"/>
<path d="M197.56,368.87 C202.09,368.83 218.48,369.06 224.76,368.64 C231.04,368.23 231.85,367.81 235.22,366.36 C238.60,364.92 241.36,362.71 244.99,359.98 C248.62,357.25 253.99,352.49 256.99,349.99 C259.99,347.49 260.22,347.15 262.99,344.98 C265.75,342.80 270.13,339.53 273.59,336.95 C277.04,334.38 282.02,330.76 283.70,329.52" fill="none" stroke="#f0a0ac" stroke-width="0.95" stroke-linejoin="round"/>
<path d="M197.56,368.87 C202.09,368.83 219.07,368.99 224.76,368.64 C230.46,368.30 228.91,368.26 231.74,366.82 C234.56,365.38 238.13,362.78 241.71,359.98 C245.29,357.18 250.63,352.49 253.22,349.99 C255.81,347.49 255.03,347.95 257.27,344.98 C259.50,342.01 263.62,336.33 266.61,332.16 C269.60,328.00 272.27,323.94 275.19,319.99 C278.11,316.04 282.63,310.37 284.12,308.45" fill="none" stroke="#8094e0" stroke-width="0.95" stroke-linejoin="round"/>
<path d="M197.56,368.87 C202.09,368.76 219.07,368.76 224.76,368.19 C230.46,367.62 229.45,366.82 231.74,365.45 C234.03,364.08 236.21,362.56 238.50,359.98 C240.79,357.40 243.85,352.49 245.48,349.99 C247.11,347.49 246.16,349.98 248.27,344.98 C250.37,339.98 254.50,329.15 258.10,319.99 C261.71,310.82 265.57,301.48 269.89,289.98 C274.22,278.49 281.69,257.49 284.05,251.00" fill="none" stroke="#5068cc" stroke-width="0.95" stroke-linejoin="round"/>
<path d="M197.56,368.87 C200.93,368.83 213.25,368.87 217.79,368.64 C222.32,368.42 223.02,367.96 224.76,367.50 C226.51,367.05 227.09,366.59 228.25,365.91 C229.41,365.22 230.57,364.39 231.74,363.40 C232.90,362.41 234.06,361.31 235.22,359.98 C236.39,358.65 237.74,356.94 238.71,355.42 C239.69,353.90 240.22,352.61 241.08,350.86 C241.94,349.11 242.76,347.67 243.87,344.93 C244.99,342.20 246.19,338.62 247.78,334.44 C249.37,330.26 250.72,327.26 253.43,319.85 C256.14,312.44 260.67,299.56 264.03,289.98 C267.39,280.41 270.25,271.63 273.59,262.40 C276.92,253.16 282.31,239.22 284.05,234.58" fill="none" stroke="#474ca6" stroke-width="0.95" stroke-linejoin="round"/>
<line x1="288.80" y1="238.00" x2="288.80" y2="297.50" stroke="#222" stroke-width="0.9" stroke-dasharray="1.4 1.6"/>
<line x1="288.80" y1="329.00" x2="288.80" y2="355.50" stroke="#222" stroke-width="0.9" stroke-dasharray="1.4 1.6"/>
<path d="M288.80,234.80 L290.80,239.30 L286.80,239.30 Z" fill="#111" stroke="none" stroke-width="1" stroke-linejoin="round"/>
<path d="M288.80,360.20 L286.80,355.70 L290.80,355.70 Z" fill="#111" stroke="none" stroke-width="1" stroke-linejoin="round"/>
<text x="297.2" y="230.2" font-size="7.6" fill="#4a4fa8" text-anchor="end" stroke="#4a4fa8" stroke-width="0.1">77K</text>
<text x="297.2" y="271.7" font-size="7.6" fill="#5060c0" text-anchor="end" stroke="#5060c0" stroke-width="0.1">150K</text>
<text x="297.2" y="306.3" font-size="7.6" fill="#8aa0e6" text-anchor="end" stroke="#8aa0e6" stroke-width="0.1">300K</text>
<text x="297.2" y="327.2" font-size="7.6" fill="#eea2aa" text-anchor="end" stroke="#eea2aa" stroke-width="0.1">300K</text>
<text x="297.2" y="353.9" font-size="7.6" fill="#e0404a" text-anchor="end" stroke="#e0404a" stroke-width="0.1">150K</text>
<text x="297.2" y="367.3" font-size="7.6" fill="#a0303a" text-anchor="end" stroke="#a0303a" stroke-width="0.1">77K</text>
<text x="202.6" y="223.4" font-size="7.8" fill="#4a54b0" stroke="#4a54b0" stroke-width="0.1">Bi–MoS<tspan font-size="5.2" dy="1.6">2</tspan><tspan dy="-1.6"> FET</tspan></text>
<text x="202.6" y="234.2" font-size="7.8" fill="#d04a50" stroke="#d04a50" stroke-width="0.1">Ni–MoS<tspan font-size="5.2" dy="1.6">2</tspan><tspan dy="-1.6"> FET</tspan></text>
<text x="202.0" y="327.6" font-size="7.8" fill="#2a2a2a" stroke="#2a2a2a" stroke-width="0.1"><tspan font-style="italic">V</tspan><tspan font-size="5.2" dy="1.6">DS</tspan><tspan dy="-1.6"> = 1 V</tspan></text>
<text x="202.0" y="338.8" font-size="7.8" fill="#2a2a2a" stroke="#2a2a2a" stroke-width="0.1"><tspan font-style="italic">L</tspan><tspan font-size="5.2" dy="1.6">CH</tspan><tspan dy="-1.6"> = 1 µm</tspan></text>
<rect x="197.5" y="209.5" width="100.80000000000001" height="159.60000000000002" fill="none" stroke="#5e5e5e" stroke-width="1.15"/>
<line x1="337.90" y1="372.40" x2="340.30" y2="372.40" stroke="#5e5e5e" stroke-width="0.9"/>
<text x="336.9" y="374.70" font-size="6.5" fill="#2e2e2e" text-anchor="end" stroke="#2e2e2e" stroke-width="0.1">10<tspan font-size="4.0" dy="-2.8">1</tspan></text>
<line x1="339.00" y1="362.80" x2="340.30" y2="362.80" stroke="#5e5e5e" stroke-width="0.6"/>
<line x1="339.00" y1="357.18" x2="340.30" y2="357.18" stroke="#5e5e5e" stroke-width="0.6"/>
<line x1="339.00" y1="353.19" x2="340.30" y2="353.19" stroke="#5e5e5e" stroke-width="0.6"/>
<line x1="339.00" y1="350.10" x2="340.30" y2="350.10" stroke="#5e5e5e" stroke-width="0.6"/>
<line x1="339.00" y1="347.58" x2="340.30" y2="347.58" stroke="#5e5e5e" stroke-width="0.6"/>
<line x1="339.00" y1="345.44" x2="340.30" y2="345.44" stroke="#5e5e5e" stroke-width="0.6"/>
<line x1="339.00" y1="343.59" x2="340.30" y2="343.59" stroke="#5e5e5e" stroke-width="0.6"/>
<line x1="339.00" y1="341.96" x2="340.30" y2="341.96" stroke="#5e5e5e" stroke-width="0.6"/>
<line x1="337.90" y1="340.50" x2="340.30" y2="340.50" stroke="#5e5e5e" stroke-width="0.9"/>
<text x="336.9" y="342.80" font-size="6.5" fill="#2e2e2e" text-anchor="end" stroke="#2e2e2e" stroke-width="0.1">10<tspan font-size="4.0" dy="-2.8">2</tspan></text>
<line x1="339.00" y1="330.90" x2="340.30" y2="330.90" stroke="#5e5e5e" stroke-width="0.6"/>
<line x1="339.00" y1="325.28" x2="340.30" y2="325.28" stroke="#5e5e5e" stroke-width="0.6"/>
<line x1="339.00" y1="321.29" x2="340.30" y2="321.29" stroke="#5e5e5e" stroke-width="0.6"/>
<line x1="339.00" y1="318.20" x2="340.30" y2="318.20" stroke="#5e5e5e" stroke-width="0.6"/>
<line x1="339.00" y1="315.68" x2="340.30" y2="315.68" stroke="#5e5e5e" stroke-width="0.6"/>
<line x1="339.00" y1="313.54" x2="340.30" y2="313.54" stroke="#5e5e5e" stroke-width="0.6"/>
<line x1="339.00" y1="311.69" x2="340.30" y2="311.69" stroke="#5e5e5e" stroke-width="0.6"/>
<line x1="339.00" y1="310.06" x2="340.30" y2="310.06" stroke="#5e5e5e" stroke-width="0.6"/>
<line x1="337.90" y1="308.60" x2="340.30" y2="308.60" stroke="#5e5e5e" stroke-width="0.9"/>
<text x="336.9" y="310.90" font-size="6.5" fill="#2e2e2e" text-anchor="end" stroke="#2e2e2e" stroke-width="0.1">10<tspan font-size="4.0" dy="-2.8">3</tspan></text>
<line x1="339.00" y1="299.00" x2="340.30" y2="299.00" stroke="#5e5e5e" stroke-width="0.6"/>
<line x1="339.00" y1="293.38" x2="340.30" y2="293.38" stroke="#5e5e5e" stroke-width="0.6"/>
<line x1="339.00" y1="289.39" x2="340.30" y2="289.39" stroke="#5e5e5e" stroke-width="0.6"/>
<line x1="339.00" y1="286.30" x2="340.30" y2="286.30" stroke="#5e5e5e" stroke-width="0.6"/>
<line x1="339.00" y1="283.78" x2="340.30" y2="283.78" stroke="#5e5e5e" stroke-width="0.6"/>
<line x1="339.00" y1="281.64" x2="340.30" y2="281.64" stroke="#5e5e5e" stroke-width="0.6"/>
<line x1="339.00" y1="279.79" x2="340.30" y2="279.79" stroke="#5e5e5e" stroke-width="0.6"/>
<line x1="339.00" y1="278.16" x2="340.30" y2="278.16" stroke="#5e5e5e" stroke-width="0.6"/>
<line x1="337.90" y1="276.70" x2="340.30" y2="276.70" stroke="#5e5e5e" stroke-width="0.9"/>
<text x="336.9" y="279.00" font-size="6.5" fill="#2e2e2e" text-anchor="end" stroke="#2e2e2e" stroke-width="0.1">10<tspan font-size="4.0" dy="-2.8">4</tspan></text>
<line x1="339.00" y1="267.10" x2="340.30" y2="267.10" stroke="#5e5e5e" stroke-width="0.6"/>
<line x1="339.00" y1="261.48" x2="340.30" y2="261.48" stroke="#5e5e5e" stroke-width="0.6"/>
<line x1="339.00" y1="257.49" x2="340.30" y2="257.49" stroke="#5e5e5e" stroke-width="0.6"/>
<line x1="339.00" y1="254.40" x2="340.30" y2="254.40" stroke="#5e5e5e" stroke-width="0.6"/>
<line x1="339.00" y1="251.88" x2="340.30" y2="251.88" stroke="#5e5e5e" stroke-width="0.6"/>
<line x1="339.00" y1="249.74" x2="340.30" y2="249.74" stroke="#5e5e5e" stroke-width="0.6"/>
<line x1="339.00" y1="247.89" x2="340.30" y2="247.89" stroke="#5e5e5e" stroke-width="0.6"/>
<line x1="339.00" y1="246.26" x2="340.30" y2="246.26" stroke="#5e5e5e" stroke-width="0.6"/>
<line x1="337.90" y1="244.80" x2="340.30" y2="244.80" stroke="#5e5e5e" stroke-width="0.9"/>
<text x="336.9" y="247.10" font-size="6.5" fill="#2e2e2e" text-anchor="end" stroke="#2e2e2e" stroke-width="0.1">10<tspan font-size="4.0" dy="-2.8">5</tspan></text>
<line x1="339.00" y1="235.20" x2="340.30" y2="235.20" stroke="#5e5e5e" stroke-width="0.6"/>
<line x1="339.00" y1="229.58" x2="340.30" y2="229.58" stroke="#5e5e5e" stroke-width="0.6"/>
<line x1="339.00" y1="225.59" x2="340.30" y2="225.59" stroke="#5e5e5e" stroke-width="0.6"/>
<line x1="339.00" y1="222.50" x2="340.30" y2="222.50" stroke="#5e5e5e" stroke-width="0.6"/>
<line x1="339.00" y1="219.98" x2="340.30" y2="219.98" stroke="#5e5e5e" stroke-width="0.6"/>
<line x1="339.00" y1="217.84" x2="340.30" y2="217.84" stroke="#5e5e5e" stroke-width="0.6"/>
<line x1="339.00" y1="215.99" x2="340.30" y2="215.99" stroke="#5e5e5e" stroke-width="0.6"/>
<line x1="339.00" y1="214.36" x2="340.30" y2="214.36" stroke="#5e5e5e" stroke-width="0.6"/>
<line x1="337.90" y1="212.90" x2="340.30" y2="212.90" stroke="#5e5e5e" stroke-width="0.9"/>
<text x="336.9" y="215.20" font-size="6.5" fill="#2e2e2e" text-anchor="end" stroke="#2e2e2e" stroke-width="0.1">10<tspan font-size="4.0" dy="-2.8">6</tspan></text>
<line x1="349.90" y1="372.20" x2="349.90" y2="374.60" stroke="#5e5e5e" stroke-width="0.9"/>
<line x1="378.74" y1="372.20" x2="378.74" y2="373.50" stroke="#5e5e5e" stroke-width="0.6"/>
<line x1="395.61" y1="372.20" x2="395.61" y2="373.50" stroke="#5e5e5e" stroke-width="0.6"/>
<line x1="407.58" y1="372.20" x2="407.58" y2="373.50" stroke="#5e5e5e" stroke-width="0.6"/>
<line x1="416.86" y1="372.20" x2="416.86" y2="373.50" stroke="#5e5e5e" stroke-width="0.6"/>
<line x1="424.45" y1="372.20" x2="424.45" y2="373.50" stroke="#5e5e5e" stroke-width="0.6"/>
<line x1="430.86" y1="372.20" x2="430.86" y2="373.50" stroke="#5e5e5e" stroke-width="0.6"/>
<line x1="436.42" y1="372.20" x2="436.42" y2="373.50" stroke="#5e5e5e" stroke-width="0.6"/>
<line x1="441.32" y1="372.20" x2="441.32" y2="373.50" stroke="#5e5e5e" stroke-width="0.6"/>
<line x1="445.70" y1="372.20" x2="445.70" y2="374.60" stroke="#5e5e5e" stroke-width="0.9"/>
<line x1="474.54" y1="372.20" x2="474.54" y2="373.50" stroke="#5e5e5e" stroke-width="0.6"/>
<line x1="491.41" y1="372.20" x2="491.41" y2="373.50" stroke="#5e5e5e" stroke-width="0.6"/>
<line x1="503.38" y1="372.20" x2="503.38" y2="373.50" stroke="#5e5e5e" stroke-width="0.6"/>
<line x1="512.66" y1="372.20" x2="512.66" y2="373.50" stroke="#5e5e5e" stroke-width="0.6"/>
<line x1="520.25" y1="372.20" x2="520.25" y2="373.50" stroke="#5e5e5e" stroke-width="0.6"/>
<line x1="526.66" y1="372.20" x2="526.66" y2="373.50" stroke="#5e5e5e" stroke-width="0.6"/>
<line x1="532.22" y1="372.20" x2="532.22" y2="373.50" stroke="#5e5e5e" stroke-width="0.6"/>
<line x1="537.12" y1="372.20" x2="537.12" y2="373.50" stroke="#5e5e5e" stroke-width="0.6"/>
<line x1="541.50" y1="372.20" x2="541.50" y2="374.60" stroke="#5e5e5e" stroke-width="0.9"/>
<line x1="340.62" y1="372.20" x2="340.62" y2="373.50" stroke="#5e5e5e" stroke-width="0.6"/>
<line x1="345.52" y1="372.20" x2="345.52" y2="373.50" stroke="#5e5e5e" stroke-width="0.6"/>
<text x="349.9" y="382.4" font-size="6.0" fill="#2e2e2e" text-anchor="middle" stroke="#2e2e2e" stroke-width="0.1">0.1</text>
<text x="445.7" y="382.4" font-size="6.0" fill="#2e2e2e" text-anchor="middle" stroke="#2e2e2e" stroke-width="0.1">1</text>
<text x="541.5" y="382.4" font-size="6.0" fill="#2e2e2e" text-anchor="middle" stroke="#2e2e2e" stroke-width="0.1">10</text>
<text x="441" y="391.2" font-size="6.15" fill="#2e2e2e" text-anchor="middle" stroke="#2e2e2e" stroke-width="0.1">Carrier density (10<tspan font-size="4.2" dy="-2.4">13</tspan><tspan dy="2.4"> cm</tspan><tspan font-size="4.2" dy="-2.4">−2</tspan><tspan dy="2.4">)</tspan></text>
<text transform="translate(315.8,291.2) rotate(-90)" font-size="6.1" fill="#2e2e2e" text-anchor="middle" stroke="#2e2e2e" stroke-width="0.1">Contact resistance, <tspan font-style="italic">R</tspan><tspan font-size="4.2" dy="1.3">C</tspan><tspan dy="-1.3"> (Ω µm)</tspan></text>
<ellipse cx="435.2" cy="325.8" rx="21.4" ry="2.0" fill="#f5c0d8" opacity="0.9"/>
<ellipse cx="411" cy="337" rx="19.5" ry="7.2" fill="#c9c0e6" opacity="0.8"/>
<ellipse cx="438" cy="344.4" rx="13.5" ry="6.5" fill="#d6d6d6" opacity="0.85"/>
<ellipse cx="458.2" cy="347.1" rx="17.8" ry="7.6" fill="#bde3c0" opacity="0.85"/>
<ellipse cx="431" cy="335" rx="40.5" ry="3.2" fill="#8a9ee8" opacity="0.45"/>
<line x1="340.30" y1="336.60" x2="541.80" y2="369.50" stroke="#444" stroke-width="0.9"/>
<text transform="translate(357.0,347.8) rotate(8.2)" font-size="6.5" fill="#2a2a2a" style="will-change:transform" stroke="#2a2a2a" stroke-width="0.1">Quantum limit</text>
<text x="401.0" y="343.6" font-size="6.4" fill="#333" stroke="#333" stroke-width="0.1">InGaAs</text>
<text x="431.8" y="347.3" font-size="6.4" fill="#333" stroke="#333" stroke-width="0.1">Si</text>
<text x="455.5" y="352.4" font-size="6.4" fill="#333" stroke="#333" stroke-width="0.1">GaN</text>
<text x="431.0" y="327.0" font-size="6.4" fill="#333" stroke="#333" stroke-width="0.1">1T</text>
<path d="M366.60,333.10 C370.40,333.25 382.95,333.90 389.40,334.00 C395.85,334.10 400.12,333.48 405.30,333.70 C410.48,333.92 416.32,335.22 420.50,335.30 C424.68,335.38 426.72,334.05 430.40,334.20 C434.08,334.35 439.30,336.02 442.60,336.20 C445.90,336.38 446.92,335.20 450.20,335.30 C453.48,335.40 460.28,336.55 462.30,336.80" fill="none" stroke="#3e62d0" stroke-width="0.8" stroke-linejoin="round"/>
<path d="M366.60,330.20 L367.37,332.04 L369.36,332.20 L367.84,333.50 L368.30,335.45 L366.60,334.41 L364.90,335.45 L365.36,333.50 L363.84,332.20 L365.83,332.04 Z" fill="#2a52c4" stroke="none" stroke-width="1" stroke-linejoin="round"/>
<path d="M389.40,331.10 L390.17,332.94 L392.16,333.10 L390.64,334.40 L391.10,336.35 L389.40,335.31 L387.70,336.35 L388.16,334.40 L386.64,333.10 L388.63,332.94 Z" fill="#2a52c4" stroke="none" stroke-width="1" stroke-linejoin="round"/>
<path d="M405.30,330.80 L406.07,332.64 L408.06,332.80 L406.54,334.10 L407.00,336.05 L405.30,335.00 L403.60,336.05 L404.06,334.10 L402.54,332.80 L404.53,332.64 Z" fill="#2a52c4" stroke="none" stroke-width="1" stroke-linejoin="round"/>
<path d="M420.50,332.40 L421.27,334.24 L423.26,334.40 L421.74,335.70 L422.20,337.65 L420.50,336.61 L418.80,337.65 L419.26,335.70 L417.74,334.40 L419.73,334.24 Z" fill="#2a52c4" stroke="none" stroke-width="1" stroke-linejoin="round"/>
<path d="M430.40,331.30 L431.17,333.14 L433.16,333.30 L431.64,334.60 L432.10,336.55 L430.40,335.50 L428.70,336.55 L429.16,334.60 L427.64,333.30 L429.63,333.14 Z" fill="#2a52c4" stroke="none" stroke-width="1" stroke-linejoin="round"/>
<path d="M442.60,333.30 L443.37,335.14 L445.36,335.30 L443.84,336.60 L444.30,338.55 L442.60,337.50 L440.90,338.55 L441.36,336.60 L439.84,335.30 L441.83,335.14 Z" fill="#2a52c4" stroke="none" stroke-width="1" stroke-linejoin="round"/>
<path d="M450.20,332.40 L450.97,334.24 L452.96,334.40 L451.44,335.70 L451.90,337.65 L450.20,336.61 L448.50,337.65 L448.96,335.70 L447.44,334.40 L449.43,334.24 Z" fill="#2a52c4" stroke="none" stroke-width="1" stroke-linejoin="round"/>
<path d="M462.30,333.90 L463.07,335.74 L465.06,335.90 L463.54,337.20 L464.00,339.15 L462.30,338.11 L460.60,339.15 L461.06,337.20 L459.54,335.90 L461.53,335.74 Z" fill="#2a52c4" stroke="none" stroke-width="1" stroke-linejoin="round"/>
<text x="473.8" y="337.4" font-size="6.4" fill="#4a66cc" stroke="#4a66cc" stroke-width="0.1">Bi/MoS<tspan font-size="4.4" dy="1.4">2</tspan><tspan dy="-1.4"> (this work)</tspan></text>
<text x="343.3" y="326.7" font-size="6.6" fill="#2a2a2a" stroke="#2a2a2a" stroke-width="0.1"><tspan font-style="italic">V</tspan><tspan font-size="4.6" dy="1.4">GS</tspan><tspan dy="-1.4"> = 0 V</tspan></text>
<line x1="356.00" y1="327.00" x2="361.50" y2="331.20" stroke="#111" stroke-width="0.8"/>
<path d="M363.60,332.80 L360.15,332.05 L361.97,329.67 Z" fill="#111" stroke="none" stroke-width="1" stroke-linejoin="round"/>
<path d="M353.70,269.90 C355.35,270.07 360.68,270.57 363.60,270.90 C366.52,271.23 368.80,271.57 371.20,271.90 C373.60,272.23 375.85,272.55 378.00,272.90 C380.15,273.25 382.33,273.65 384.10,274.00 C385.87,274.35 387.12,274.68 388.60,275.00 C390.08,275.32 391.60,275.60 393.00,275.90 C394.40,276.20 395.70,276.50 397.00,276.80 C398.30,277.10 399.53,277.40 400.80,277.70 C402.07,278.00 403.33,278.30 404.60,278.60 C405.87,278.90 407.77,279.35 408.40,279.50" fill="none" stroke="#b8b622" stroke-width="0.9" stroke-linejoin="round"/>
<path d="M353.70,267.87 L355.71,271.25 L351.69,271.25 Z" fill="#c2be1e" stroke="none" stroke-width="0.6" stroke-linejoin="round"/>
<path d="M363.60,268.87 L365.62,272.25 L361.59,272.25 Z" fill="#c2be1e" stroke="none" stroke-width="0.6" stroke-linejoin="round"/>
<path d="M371.20,269.87 L373.21,273.25 L369.19,273.25 Z" fill="#c2be1e" stroke="none" stroke-width="0.6" stroke-linejoin="round"/>
<path d="M378.00,270.87 L380.01,274.25 L375.99,274.25 Z" fill="#c2be1e" stroke="none" stroke-width="0.6" stroke-linejoin="round"/>
<path d="M384.10,271.97 L386.12,275.35 L382.09,275.35 Z" fill="#c2be1e" stroke="none" stroke-width="0.6" stroke-linejoin="round"/>
<path d="M388.60,272.97 L390.62,276.35 L386.59,276.35 Z" fill="#c2be1e" stroke="none" stroke-width="0.6" stroke-linejoin="round"/>
<path d="M393.00,273.87 L395.01,277.25 L390.99,277.25 Z" fill="#c2be1e" stroke="none" stroke-width="0.6" stroke-linejoin="round"/>
<path d="M397.00,274.77 L399.01,278.15 L394.99,278.15 Z" fill="#c2be1e" stroke="none" stroke-width="0.6" stroke-linejoin="round"/>
<path d="M400.80,275.67 L402.81,279.05 L398.79,279.05 Z" fill="#c2be1e" stroke="none" stroke-width="0.6" stroke-linejoin="round"/>
<path d="M404.60,276.57 L406.62,279.95 L402.59,279.95 Z" fill="#c2be1e" stroke="none" stroke-width="0.6" stroke-linejoin="round"/>
<path d="M408.40,277.47 L410.41,280.85 L406.38,280.85 Z" fill="#c2be1e" stroke="none" stroke-width="0.6" stroke-linejoin="round"/>
<path d="M378.8,275.6 L421,287.2 L424.5,288.4 L424.5,291 L421,290.6 L378.8,279.6 Z" fill="#8ad88a" opacity="0.95"/>
<path d="M379.00,275.57 L381.01,278.95 L376.99,278.95 Z" fill="#56c056" stroke="none" stroke-width="0.6" stroke-linejoin="round"/>
<path d="M385.29,277.20 L387.30,280.58 L383.27,280.58 Z" fill="#56c056" stroke="none" stroke-width="0.6" stroke-linejoin="round"/>
<path d="M391.57,278.83 L393.59,282.21 L389.56,282.21 Z" fill="#56c056" stroke="none" stroke-width="0.6" stroke-linejoin="round"/>
<path d="M397.86,280.46 L399.87,283.84 L395.84,283.84 Z" fill="#56c056" stroke="none" stroke-width="0.6" stroke-linejoin="round"/>
<path d="M404.14,282.09 L406.16,285.47 L402.13,285.47 Z" fill="#56c056" stroke="none" stroke-width="0.6" stroke-linejoin="round"/>
<path d="M410.43,283.71 L412.44,287.09 L408.41,287.09 Z" fill="#56c056" stroke="none" stroke-width="0.6" stroke-linejoin="round"/>
<path d="M416.71,285.34 L418.73,288.72 L414.70,288.72 Z" fill="#56c056" stroke="none" stroke-width="0.6" stroke-linejoin="round"/>
<path d="M423.00,286.97 L425.01,290.35 L420.99,290.35 Z" fill="#56c056" stroke="none" stroke-width="0.6" stroke-linejoin="round"/>
<path d="M349.40,277.50 C354.30,277.83 371.25,278.37 378.80,279.50 C386.35,280.63 389.90,282.78 394.70,284.30 C399.50,285.82 403.93,287.28 407.60,288.60 C411.27,289.92 413.97,291.17 416.70,292.20 C419.43,293.23 422.78,294.37 424.00,294.80" fill="none" stroke="#5a4fb8" stroke-width="0.8" stroke-linejoin="round"/>
<path d="M349.40,275.47 L351.41,278.85 L347.38,278.85 Z" fill="#4b3fa8" stroke="none" stroke-width="0.6" stroke-linejoin="round"/>
<path d="M378.80,277.47 L380.81,280.85 L376.79,280.85 Z" fill="#4b3fa8" stroke="none" stroke-width="0.6" stroke-linejoin="round"/>
<path d="M394.70,282.27 L396.71,285.65 L392.69,285.65 Z" fill="#4b3fa8" stroke="none" stroke-width="0.6" stroke-linejoin="round"/>
<path d="M407.60,286.57 L409.62,289.95 L405.59,289.95 Z" fill="#4b3fa8" stroke="none" stroke-width="0.6" stroke-linejoin="round"/>
<path d="M416.70,290.17 L418.71,293.55 L414.69,293.55 Z" fill="#4b3fa8" stroke="none" stroke-width="0.6" stroke-linejoin="round"/>
<path d="M424.00,292.77 L426.01,296.15 L421.99,296.15 Z" fill="#4b3fa8" stroke="none" stroke-width="0.6" stroke-linejoin="round"/>
<path d="M352.20,285.80 C355.37,286.00 366.13,286.62 371.20,287.00 C376.27,287.38 379.43,287.67 382.60,288.10 C385.77,288.53 387.55,289.08 390.20,289.60 C392.85,290.12 395.98,290.77 398.50,291.20 C401.02,291.63 403.27,291.88 405.30,292.20 C407.33,292.52 409.08,292.80 410.70,293.10 C412.32,293.40 413.62,293.68 415.00,294.00 C416.38,294.32 417.67,294.67 419.00,295.00 C420.33,295.33 422.33,295.83 423.00,296.00" fill="none" stroke="#f29ab8" stroke-width="0.7" stroke-linejoin="round"/>
<path d="M352.20,284.02 L353.97,286.99 L350.43,286.99 Z" fill="#fff" stroke="#ee7fa8" stroke-width="0.6" stroke-linejoin="round"/>
<path d="M371.20,285.22 L372.97,288.19 L369.43,288.19 Z" fill="#fff" stroke="#ee7fa8" stroke-width="0.6" stroke-linejoin="round"/>
<path d="M382.60,286.32 L384.37,289.29 L380.83,289.29 Z" fill="#fff" stroke="#ee7fa8" stroke-width="0.6" stroke-linejoin="round"/>
<path d="M390.20,287.82 L391.97,290.79 L388.43,290.79 Z" fill="#fff" stroke="#ee7fa8" stroke-width="0.6" stroke-linejoin="round"/>
<path d="M398.50,289.42 L400.27,292.39 L396.73,292.39 Z" fill="#fff" stroke="#ee7fa8" stroke-width="0.6" stroke-linejoin="round"/>
<path d="M405.30,290.42 L407.07,293.39 L403.53,293.39 Z" fill="#fff" stroke="#ee7fa8" stroke-width="0.6" stroke-linejoin="round"/>
<path d="M410.70,291.32 L412.47,294.29 L408.93,294.29 Z" fill="#fff" stroke="#ee7fa8" stroke-width="0.6" stroke-linejoin="round"/>
<path d="M415.00,292.22 L416.77,295.19 L413.23,295.19 Z" fill="#fff" stroke="#ee7fa8" stroke-width="0.6" stroke-linejoin="round"/>
<path d="M419.00,293.22 L420.77,296.19 L417.23,296.19 Z" fill="#fff" stroke="#ee7fa8" stroke-width="0.6" stroke-linejoin="round"/>
<path d="M423.00,294.22 L424.77,297.19 L421.23,297.19 Z" fill="#fff" stroke="#ee7fa8" stroke-width="0.6" stroke-linejoin="round"/>
<path d="M386.50,280.12 L388.27,283.09 L384.73,283.09 Z" fill="#fff" stroke="#e84a5a" stroke-width="0.6" stroke-linejoin="round"/>
<path d="M390.40,280.62 L392.17,283.59 L388.63,283.59 Z" fill="#fff" stroke="#e84a5a" stroke-width="0.6" stroke-linejoin="round"/>
<path d="M393.60,281.22 L395.37,284.19 L391.83,284.19 Z" fill="#fff" stroke="#e84a5a" stroke-width="0.6" stroke-linejoin="round"/>
<path d="M397.40,282.02 L399.17,284.99 L395.63,284.99 Z" fill="#fff" stroke="#e84a5a" stroke-width="0.6" stroke-linejoin="round"/>
<path d="M401.30,282.62 L403.07,285.59 L399.53,285.59 Z" fill="#fff" stroke="#e84a5a" stroke-width="0.6" stroke-linejoin="round"/>
<path d="M405.10,283.22 L406.87,286.19 L403.33,286.19 Z" fill="#fff" stroke="#e84a5a" stroke-width="0.6" stroke-linejoin="round"/>
<path d="M409.40,283.62 L411.17,286.59 L407.63,286.59 Z" fill="#fff" stroke="#e84a5a" stroke-width="0.6" stroke-linejoin="round"/>
<path d="M412.70,284.12 L414.47,287.09 L410.93,287.09 Z" fill="#fff" stroke="#e84a5a" stroke-width="0.6" stroke-linejoin="round"/>
<path d="M417.10,285.62 L418.87,288.59 L415.33,288.59 Z" fill="#fff" stroke="#e84a5a" stroke-width="0.6" stroke-linejoin="round"/>
<path d="M420.90,286.12 L422.67,289.09 L419.13,289.09 Z" fill="#fff" stroke="#e84a5a" stroke-width="0.6" stroke-linejoin="round"/>
<path d="M423.60,286.42 L425.37,289.39 L421.83,289.39 Z" fill="#fff" stroke="#e84a5a" stroke-width="0.6" stroke-linejoin="round"/>
<path d="M426.90,286.82 L428.67,289.79 L425.13,289.79 Z" fill="#fff" stroke="#e84a5a" stroke-width="0.6" stroke-linejoin="round"/>
<path d="M390.90,294.40 C391.90,294.63 394.98,295.33 396.90,295.80 C398.82,296.27 400.77,296.78 402.40,297.20 C404.03,297.62 405.25,297.93 406.70,298.30 C408.15,298.67 409.63,299.03 411.10,299.40 C412.57,299.77 414.02,300.10 415.50,300.50 C416.98,300.90 418.42,301.38 420.00,301.80 C421.58,302.22 423.33,302.60 425.00,303.00 C426.67,303.40 428.42,303.73 430.00,304.20 C431.58,304.67 433.08,305.23 434.50,305.80 C435.92,306.37 437.22,307.02 438.50,307.60 C439.78,308.18 440.95,308.80 442.20,309.30 C443.45,309.80 445.37,310.38 446.00,310.60" fill="none" stroke="#d6d470" stroke-width="0.7" stroke-linejoin="round"/>
<path d="M390.90,292.62 L392.67,295.59 L389.13,295.59 Z" fill="#fff" stroke="#c8c050" stroke-width="0.6" stroke-linejoin="round"/>
<path d="M396.90,294.02 L398.67,296.99 L395.13,296.99 Z" fill="#fff" stroke="#c8c050" stroke-width="0.6" stroke-linejoin="round"/>
<path d="M402.40,295.42 L404.17,298.39 L400.63,298.39 Z" fill="#fff" stroke="#c8c050" stroke-width="0.6" stroke-linejoin="round"/>
<path d="M406.70,296.52 L408.47,299.49 L404.93,299.49 Z" fill="#fff" stroke="#c8c050" stroke-width="0.6" stroke-linejoin="round"/>
<path d="M411.10,297.62 L412.87,300.59 L409.33,300.59 Z" fill="#fff" stroke="#c8c050" stroke-width="0.6" stroke-linejoin="round"/>
<path d="M415.50,298.72 L417.27,301.69 L413.73,301.69 Z" fill="#fff" stroke="#c8c050" stroke-width="0.6" stroke-linejoin="round"/>
<path d="M420.00,300.02 L421.77,302.99 L418.23,302.99 Z" fill="#fff" stroke="#c8c050" stroke-width="0.6" stroke-linejoin="round"/>
<path d="M425.00,301.22 L426.77,304.19 L423.23,304.19 Z" fill="#fff" stroke="#c8c050" stroke-width="0.6" stroke-linejoin="round"/>
<path d="M430.00,302.42 L431.77,305.39 L428.23,305.39 Z" fill="#fff" stroke="#c8c050" stroke-width="0.6" stroke-linejoin="round"/>
<path d="M434.50,304.02 L436.27,306.99 L432.73,306.99 Z" fill="#fff" stroke="#c8c050" stroke-width="0.6" stroke-linejoin="round"/>
<path d="M438.50,305.82 L440.27,308.79 L436.73,308.79 Z" fill="#fff" stroke="#c8c050" stroke-width="0.6" stroke-linejoin="round"/>
<path d="M442.20,307.52 L443.97,310.49 L440.43,310.49 Z" fill="#fff" stroke="#c8c050" stroke-width="0.6" stroke-linejoin="round"/>
<path d="M446.00,308.82 L447.77,311.79 L444.23,311.79 Z" fill="#fff" stroke="#c8c050" stroke-width="0.6" stroke-linejoin="round"/>
<line x1="426.00" y1="284.20" x2="448.50" y2="279.60" stroke="#5cc85c" stroke-width="0.75"/>
<path d="M452.40,279.30 L448.35,281.42 L448.07,277.83 Z" fill="#4cbf4c" stroke="none" stroke-width="1" stroke-linejoin="round"/>
<line x1="427.00" y1="288.50" x2="446.20" y2="287.50" stroke="#e03838" stroke-width="0.8"/>
<path d="M450.20,287.40 L446.00,289.20 L446.00,285.60 Z" fill="#e03838" stroke="none" stroke-width="1" stroke-linejoin="round"/>
<path d="M395.00,255.60 C396.98,257.10 403.35,261.77 406.90,264.60 C410.45,267.43 413.42,269.72 416.30,272.60 C419.18,275.48 421.73,278.98 424.20,281.90 C426.67,284.82 429.08,287.43 431.10,290.10 C433.12,292.77 435.07,295.92 436.30,297.90 C437.53,299.88 437.73,300.57 438.50,302.00 C439.27,303.43 440.07,305.13 440.90,306.50 C441.73,307.87 442.60,309.13 443.50,310.20 C444.40,311.27 445.38,312.23 446.30,312.90 C447.22,313.57 448.18,313.93 449.00,314.20 C449.82,314.47 450.45,314.43 451.20,314.50 C451.95,314.57 452.73,314.58 453.50,314.60 C454.27,314.62 455.05,314.63 455.80,314.60 C456.55,314.57 457.27,314.48 458.00,314.40 C458.73,314.32 459.45,314.23 460.20,314.10 C460.95,313.97 461.73,313.80 462.50,313.60 C463.27,313.40 464.05,313.17 464.80,312.90 C465.55,312.63 466.27,312.32 467.00,312.00 C467.73,311.68 468.50,311.33 469.20,311.00 C469.90,310.67 470.87,310.17 471.20,310.00" fill="none" stroke="#a038b0" stroke-width="0.85" stroke-linejoin="round"/>
<path d="M395.00,253.18 L397.40,257.21 L392.60,257.21 Z" fill="#8a1a9a" stroke="none" stroke-width="0.6" stroke-linejoin="round"/>
<path d="M406.90,262.18 L409.30,266.21 L404.50,266.21 Z" fill="#8a1a9a" stroke="none" stroke-width="0.6" stroke-linejoin="round"/>
<path d="M416.30,270.18 L418.70,274.21 L413.90,274.21 Z" fill="#8a1a9a" stroke="none" stroke-width="0.6" stroke-linejoin="round"/>
<path d="M424.20,279.48 L426.60,283.51 L421.80,283.51 Z" fill="#8a1a9a" stroke="none" stroke-width="0.6" stroke-linejoin="round"/>
<path d="M431.10,287.68 L433.50,291.71 L428.70,291.71 Z" fill="#8a1a9a" stroke="none" stroke-width="0.6" stroke-linejoin="round"/>
<path d="M436.30,295.48 L438.70,299.51 L433.90,299.51 Z" fill="#8a1a9a" stroke="none" stroke-width="0.6" stroke-linejoin="round"/>
<path d="M438.50,299.58 L440.90,303.61 L436.10,303.61 Z" fill="#8a1a9a" stroke="none" stroke-width="0.6" stroke-linejoin="round"/>
<path d="M440.90,304.08 L443.30,308.11 L438.50,308.11 Z" fill="#8a1a9a" stroke="none" stroke-width="0.6" stroke-linejoin="round"/>
<path d="M443.50,307.78 L445.90,311.81 L441.10,311.81 Z" fill="#8a1a9a" stroke="none" stroke-width="0.6" stroke-linejoin="round"/>
<path d="M446.30,310.48 L448.70,314.51 L443.90,314.51 Z" fill="#8a1a9a" stroke="none" stroke-width="0.6" stroke-linejoin="round"/>
<path d="M449.00,311.78 L451.40,315.81 L446.60,315.81 Z" fill="#8a1a9a" stroke="none" stroke-width="0.6" stroke-linejoin="round"/>
<path d="M451.20,312.08 L453.60,316.11 L448.80,316.11 Z" fill="#8a1a9a" stroke="none" stroke-width="0.6" stroke-linejoin="round"/>
<path d="M453.50,312.18 L455.90,316.21 L451.10,316.21 Z" fill="#8a1a9a" stroke="none" stroke-width="0.6" stroke-linejoin="round"/>
<path d="M455.80,312.18 L458.20,316.21 L453.40,316.21 Z" fill="#8a1a9a" stroke="none" stroke-width="0.6" stroke-linejoin="round"/>
<path d="M458.00,311.98 L460.40,316.01 L455.60,316.01 Z" fill="#8a1a9a" stroke="none" stroke-width="0.6" stroke-linejoin="round"/>
<path d="M460.20,311.68 L462.60,315.71 L457.80,315.71 Z" fill="#8a1a9a" stroke="none" stroke-width="0.6" stroke-linejoin="round"/>
<path d="M462.50,311.18 L464.90,315.21 L460.10,315.21 Z" fill="#8a1a9a" stroke="none" stroke-width="0.6" stroke-linejoin="round"/>
<path d="M464.80,310.48 L467.20,314.51 L462.40,314.51 Z" fill="#8a1a9a" stroke="none" stroke-width="0.6" stroke-linejoin="round"/>
<path d="M467.00,309.58 L469.40,313.61 L464.60,313.61 Z" fill="#8a1a9a" stroke="none" stroke-width="0.6" stroke-linejoin="round"/>
<path d="M469.20,308.58 L471.60,312.61 L466.80,312.61 Z" fill="#8a1a9a" stroke="none" stroke-width="0.6" stroke-linejoin="round"/>
<path d="M471.20,307.58 L473.60,311.61 L468.80,311.61 Z" fill="#8a1a9a" stroke="none" stroke-width="0.6" stroke-linejoin="round"/>
<path d="M395.20,252.87 L397.91,257.42 L392.49,257.42 Z" fill="#8a1a9a" stroke="#444" stroke-width="0.5" stroke-linejoin="round"/>
<line x1="393.00" y1="257.00" x2="383.00" y2="255.70" stroke="#333" stroke-width="0.8"/>
<path d="M378.80,255.20 L383.58,253.80 L383.17,257.58 Z" fill="#2a2a2a" stroke="none" stroke-width="1" stroke-linejoin="round"/>
<line x1="468.30" y1="309.40" x2="483.50" y2="302.80" stroke="#9a1fa8" stroke-width="1.3"/>
<path d="M488.60,300.60 L484.13,305.73 L481.80,300.64 Z" fill="#9a1fa8" stroke="none" stroke-width="1" stroke-linejoin="round"/>
<path d="M407.60,232.57 L409.62,235.95 L405.59,235.95 Z" fill="#222" stroke="none" stroke-width="0.6" stroke-linejoin="round"/>
<path d="M430.50,240.17 L432.51,243.55 L428.49,243.55 Z" fill="#222" stroke="none" stroke-width="0.6" stroke-linejoin="round"/>
<path d="M422.90,249.77 L424.91,253.15 L420.88,253.15 Z" fill="#222" stroke="none" stroke-width="0.6" stroke-linejoin="round"/>
<path d="M422.90,260.37 L424.91,263.75 L420.88,263.75 Z" fill="#222" stroke="none" stroke-width="0.6" stroke-linejoin="round"/>
<path d="M445.30,258.87 L447.31,262.25 L443.29,262.25 Z" fill="#222" stroke="none" stroke-width="0.6" stroke-linejoin="round"/>
<path d="M475.00,315.97 L477.01,319.35 L472.99,319.35 Z" fill="#9a4a22" stroke="none" stroke-width="0.6" stroke-linejoin="round"/>
<path d="M462.40,298.37 L464.31,301.58 L460.49,301.58 Z" fill="#fff" stroke="#e84a5a" stroke-width="0.6" stroke-linejoin="round"/>
<path d="M442.20,315.47 L444.11,318.68 L440.29,318.68 Z" fill="#fff" stroke="#f0a070" stroke-width="0.6" stroke-linejoin="round"/>
<path d="M397.40,308.67 L399.31,311.88 L395.49,311.88 Z" fill="#fff" stroke="#7060c0" stroke-width="0.6" stroke-linejoin="round"/>
<text x="403.5" y="231.0" font-size="6.4" fill="#2a2a2a" stroke="#2a2a2a" stroke-width="0.1">Sn</text>
<text x="371.9" y="255.6" font-size="6.4" fill="#2a2a2a" stroke="#2a2a2a" stroke-width="0.1">Cr</text>
<text x="366.9" y="269.0" font-size="6.4" fill="#2a2a2a" stroke="#2a2a2a" stroke-width="0.1">Au</text>
<text x="432.5" y="241.2" font-size="6.4" fill="#2a2a2a" stroke="#2a2a2a" stroke-width="0.1">Gr/Ag</text>
<text x="415.8" y="251.0" font-size="6.4" fill="#2a2a2a" stroke="#2a2a2a" stroke-width="0.1">Al</text>
<text x="426.0" y="263.2" font-size="6.4" fill="#2a2a2a" stroke="#2a2a2a" stroke-width="0.1">Re</text>
<text x="426.4" y="270.3" font-size="6.4" fill="#2a2a2a" stroke="#2a2a2a" stroke-width="0.1">doping</text>
<text x="448.8" y="263.2" font-size="6.4" fill="#2a2a2a" stroke="#2a2a2a" stroke-width="0.1">Gr edge</text>
<text x="454.0" y="279.5" font-size="6.4" fill="#2a2a2a" stroke="#2a2a2a" stroke-width="0.1">Co/hBN</text>
<text x="451.3" y="289.6" font-size="6.4" fill="#2a2a2a" stroke="#2a2a2a" stroke-width="0.1">Ni</text>
<text x="464.4" y="298.0" font-size="6.4" fill="#2a2a2a" stroke="#2a2a2a" stroke-width="0.1">Ni</text>
<text x="359.0" y="282.0" font-size="6.4" fill="#2a2a2a" stroke="#2a2a2a" stroke-width="0.1">In/Au</text>
<text x="367.0" y="292.7" font-size="6.4" fill="#2a2a2a" stroke="#2a2a2a" stroke-width="0.1">Sc</text>
<text x="409.1" y="306.4" font-size="6.4" fill="#2a2a2a" stroke="#2a2a2a" stroke-width="0.1">Au</text>
<text x="379.8" y="312.4" font-size="6.4" fill="#2a2a2a" stroke="#2a2a2a" stroke-width="0.1">In/Au</text>
<text x="414.5" y="317.4" font-size="6.4" fill="#2a2a2a" stroke="#2a2a2a" stroke-width="0.1">Cl doping</text>
<text x="490.5" y="302.8" font-size="6.4" fill="#2a2a2a" stroke="#2a2a2a" stroke-width="0.1">Ag/Au</text>
<text x="478.4" y="319.8" font-size="6.4" fill="#2a2a2a" stroke="#2a2a2a" stroke-width="0.1">AlO<tspan font-size="4.4" dy="1.4">x</tspan></text>
<path d="M499.10,217.67 L501.12,221.05 L497.09,221.05 Z" fill="#222" stroke="none" stroke-width="0.6" stroke-linejoin="round"/>
<path d="M499.10,227.37 L501.01,230.58 L497.19,230.58 Z" fill="#fff" stroke="#444" stroke-width="0.6" stroke-linejoin="round"/>
<text x="504.8" y="222.3" font-size="6.2" fill="#2a2a2a" stroke="#2a2a2a" stroke-width="0.1">1L MoS<tspan font-size="4.2" dy="1.4">2</tspan></text>
<text x="504.2" y="231.2" font-size="6.2" fill="#2a2a2a" stroke="#2a2a2a" stroke-width="0.1">Thicker MoS<tspan font-size="4.2" dy="1.4">2</tspan></text>
<rect x="340.3" y="212.8" width="201.49999999999994" height="159.39999999999998" fill="none" stroke="#7a7a7a" stroke-width="1.15"/>
</g>
</svg></div>
</body></html>
